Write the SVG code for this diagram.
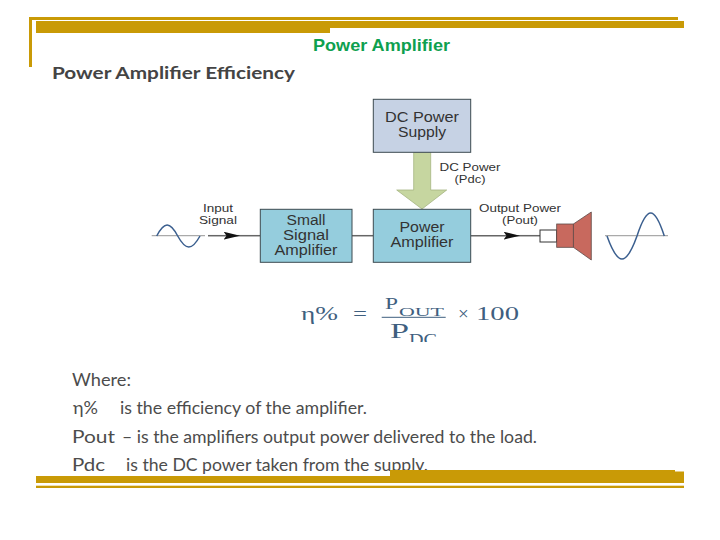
<svg xmlns="http://www.w3.org/2000/svg" width="720" height="540" viewBox="0 0 720 540">
<style>
.gold{fill:#c99a06}
.box{stroke:#3d4a50;stroke-width:1}
.amp{fill:#95cddd}
.lab{font-family:"Liberation Sans",Arial,sans-serif;fill:#333;text-anchor:middle}
.b{font-size:14px}
.s{font-size:11.5px}
.body{font-family:Lato,"Liberation Sans",sans-serif;font-size:18px;fill:#4c4c4c}
.f{font-family:"Liberation Serif","Times New Roman",serif;fill:#3f5f7f}
.line{stroke:#666;stroke-width:1.5;fill:none}
.axis{stroke:#aaa;stroke-width:1.3;fill:none}
.sine{stroke:#3b5f8f;stroke-width:1.5;fill:none}
</style>
<defs>
<marker id="ah" markerUnits="userSpaceOnUse" markerWidth="17" markerHeight="8" refX="16.500" refY="4" orient="auto"><path d="M0 0L16.500 4L0 8L3 4Z" fill="#111"/></marker>
<clipPath id="fc"><rect x="290" y="285" width="240" height="57"/></clipPath>
</defs>
<rect width="720" height="540" fill="#fff"/>
<g id="frame-top">
<rect class="gold" x="29" y="17" width="649" height="3"/>
<rect class="gold" x="29" y="17" width="3" height="50"/>
<rect class="gold" x="36" y="21" width="648" height="7"/>
<rect class="gold" x="36" y="21" width="294" height="12"/>
</g>
<text x="381.500" y="50.500" text-anchor="middle" font-family="'Liberation Sans',Arial,sans-serif" font-weight="700" font-size="17" textLength="137" lengthAdjust="spacingAndGlyphs" fill="#0ea04f">Power Amplifier</text>
<text x="52" y="79" font-family="Lato,'Liberation Sans',sans-serif" font-weight="700" font-size="17.500" textLength="243" lengthAdjust="spacingAndGlyphs" fill="#444">Power Amplifier Efficiency</text>
<g id="connectors">
<path class="line" d="M208 235.700H240" marker-end="url(#ah)"/>
<path class="line" d="M240 235.700H260"/>
<path class="line" d="M352 235.700H373.300"/>
<path class="line" d="M470.700 235.700H520" marker-end="url(#ah)"/>
<path class="line" d="M520 235.700H540"/>
<path d="M413.700 152.300V190H396.700L422 209L446.700 190H430.700V152.300Z" fill="#c6d6a0" stroke="#a5b482" stroke-width=".8"/>
</g>
<g id="input-signal">
<path class="axis" d="M151.700 235.700H205"/>
<path class="sine" d="M156.700 236C164.300 221.300 170 221.300 177.700 236C185.800 250.700 191.900 250.700 200 236"/>
<text class="lab s" x="218" y="212" textLength="30" lengthAdjust="spacingAndGlyphs">Input</text>
<text class="lab s" x="218" y="224" textLength="38" lengthAdjust="spacingAndGlyphs">Signal</text>
</g>
<g id="small-signal-amplifier">
<rect class="box amp" x="260.300" y="209.300" width="91.700" height="53"/>
<text class="lab b" x="306" y="225" textLength="39" lengthAdjust="spacingAndGlyphs">Small</text>
<text class="lab b" x="306" y="240" textLength="46" lengthAdjust="spacingAndGlyphs">Signal</text>
<text class="lab b" x="306" y="255" textLength="63" lengthAdjust="spacingAndGlyphs">Amplifier</text>
</g>
<g id="dc-power-supply">
<rect class="box" fill="#c6d2e4" x="373.300" y="99.300" width="97.400" height="53"/>
<text class="lab b" x="422" y="122" textLength="74" lengthAdjust="spacingAndGlyphs">DC Power</text>
<text class="lab b" x="422" y="137" textLength="48" lengthAdjust="spacingAndGlyphs">Supply</text>
</g>
<g id="dc-power-label">
<text class="lab s" x="470" y="171" textLength="61" lengthAdjust="spacingAndGlyphs">DC Power</text>
<text class="lab s" x="470" y="183" textLength="31" lengthAdjust="spacingAndGlyphs">(Pdc)</text>
</g>
<g id="power-amplifier">
<rect class="box amp" x="373.300" y="209.300" width="97.400" height="53"/>
<text class="lab b" x="422" y="232.300" textLength="45" lengthAdjust="spacingAndGlyphs">Power</text>
<text class="lab b" x="422" y="247.300" textLength="63" lengthAdjust="spacingAndGlyphs">Amplifier</text>
</g>
<g id="output-label">
<text class="lab s" x="520" y="212" textLength="82" lengthAdjust="spacingAndGlyphs">Output Power</text>
<text class="lab s" x="520" y="224" textLength="36" lengthAdjust="spacingAndGlyphs">(Pout)</text>
</g>
<g id="speaker">
<rect x="540" y="230" width="16.700" height="12" fill="#fff" stroke="#333" stroke-width="1"/>
<rect x="556.700" y="224" width="16.700" height="23.300" fill="#c8695e" stroke="#5d4a48" stroke-width=".8"/>
<path d="M573.400 224L591.300 212V260L573.400 247.300Z" fill="#c8695e" stroke="#5d4a48" stroke-width=".8"/>
</g>
<g id="output-signal">
<path class="axis" d="M605 235.700H668"/>
<path class="sine" d="M607 236C618 266.700 626 266.700 637 236C647 205.300 654.400 205.300 664.300 236"/>
</g>
<g id="formula">
<g clip-path="url(#fc)">
<text class="f" x="301" y="320" font-size="19" textLength="37" lengthAdjust="spacingAndGlyphs">η%</text>
<text class="f" x="353" y="320" font-size="19" textLength="14" lengthAdjust="spacingAndGlyphs">=</text>
<text class="f" x="385" y="309" font-size="17" textLength="13" lengthAdjust="spacingAndGlyphs">P</text>
<text class="f" x="399" y="316" font-size="13.500" textLength="45" lengthAdjust="spacingAndGlyphs">OUT</text>
<text class="f" x="390" y="338" font-size="20" textLength="19" lengthAdjust="spacingAndGlyphs">P</text>
<text class="f" x="409" y="345" font-size="17" textLength="28" lengthAdjust="spacingAndGlyphs">DC</text>
<text class="f" x="458" y="320" font-size="19">×</text>
<text class="f" x="476" y="320" font-size="19" textLength="43" lengthAdjust="spacingAndGlyphs">100</text>
</g>
<rect x="381.700" y="316.800" width="64" height="1" fill="#3f5f7f"/>
</g>
<g id="legend">
<text class="body" x="72" y="386" textLength="59" lengthAdjust="spacingAndGlyphs">Where:</text>
<text class="body" x="73" y="414">η%</text>
<text class="body" x="120" y="414" textLength="247" lengthAdjust="spacingAndGlyphs">is the efficiency of the amplifier.</text>
<text class="body" x="72" y="443" textLength="43" lengthAdjust="spacingAndGlyphs">Pout</text>
<text class="body" x="122" y="443" textLength="415" lengthAdjust="spacingAndGlyphs">– is the amplifiers output power delivered to the load.</text>
<text class="body" x="72" y="471" textLength="33" lengthAdjust="spacingAndGlyphs">Pdc</text>
<text class="body" x="126" y="471" textLength="302" lengthAdjust="spacingAndGlyphs">is the DC power taken from the supply.</text>
</g>
<g id="frame-bottom">
<rect class="gold" x="36" y="476" width="648" height="7"/>
<path class="gold" d="M390 470H675V471.500H684V483H390Z"/>
<rect class="gold" x="36" y="485.700" width="648" height="2.300"/>
</g>
</svg>
